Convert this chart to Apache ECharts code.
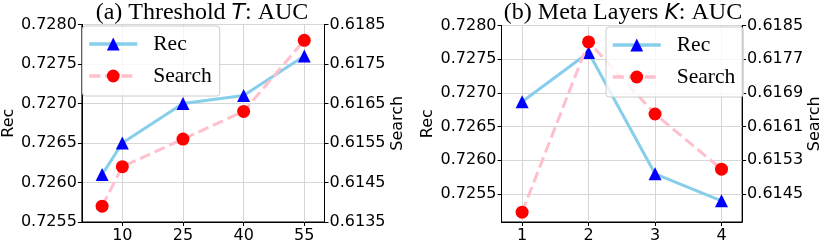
<!DOCTYPE html>
<html><head><meta charset="utf-8">
<script src="https://cdn.jsdelivr.net/npm/echarts@6/dist/echarts.min.js"></script>
<style>html,body{margin:0;padding:0;background:#fff}#c{width:824px;height:244px}</style>
</head><body><div id="c"></div>
<script>
// ---- data ----
const thresholdX = [5, 10, 25, 40, 55];
const thresholdTicks = [10, 25, 40, 55];
const thresholdRec = [0.7261, 0.7265, 0.7270, 0.7271, 0.7276];
const thresholdSearch = [0.6139, 0.6149, 0.6156, 0.6163, 0.6181];
const thresholdRecTicks = [0.7255, 0.7260, 0.7265, 0.7270, 0.7275, 0.7280];
const thresholdSearchTicks = [0.6135, 0.6145, 0.6155, 0.6165, 0.6175, 0.6185];

const layersX = [1, 2, 3, 4];
const layersTicks = [1, 2, 3, 4];
const layersRec = [0.72687, 0.7276, 0.7258, 0.7254];
const layersSearch = [0.61407, 0.61811, 0.6164, 0.61509];
const layersRecTicks = [0.7255, 0.7260, 0.7265, 0.7270, 0.7275, 0.7280];
const layersSearchTicks = [0.6145, 0.6153, 0.6161, 0.6169, 0.6177, 0.6185];

const seriesNames = ['Rec', 'Search'];
const titles = [
  ['(a) Threshold ', 'T', ': AUC'],
  ['(b) Meta Layers ', 'K', ': AUC']
];

// ---- styles ----
const SANS = 'DejaVu Sans';
const SERIF = 'Liberation Serif';
const GRIDC = '#d6d6d6';

function xAxisCfg(gi, min, max, ticks, fmt) {
  return {
    type: 'value', gridIndex: gi, min: min, max: max,
    axisLine: { show: true, onZero: false, lineStyle: { color: '#000', width: 1 } },
    axisTick: { show: true, customValues: ticks, length: 4, lineStyle: { color: '#000' } },
    axisLabel: { customValues: ticks, margin: 6, color: '#000', fontFamily: SANS, fontSize: 16, formatter: fmt },
    splitLine: { show: true, lineStyle: { color: GRIDC, width: 1 } }
  };
}
function yAxisCfg(gi, pos, min, max, ticks, name, gap, grid) {
  return {
    type: 'value', gridIndex: gi, position: pos, min: min, max: max,
    name: name, nameLocation: 'middle', nameRotate: 90, nameGap: gap,
    nameTextStyle: { fontFamily: SANS, fontSize: 16, color: '#000' },
    axisLine: { show: true, onZero: false, lineStyle: { color: '#000', width: 1 } },
    axisTick: { show: true, customValues: ticks, length: 4, lineStyle: { color: '#000' } },
    axisLabel: { customValues: ticks, margin: 5, color: '#000', fontFamily: SANS, fontSize: 16,
      formatter: v => Number(v).toFixed(4) },
    splitLine: { show: grid, lineStyle: { color: GRIDC, width: 1 } }
  };
}
function recSeries(xi, yi, xs, ys) {
  return {
    name: seriesNames[0], type: 'line', xAxisIndex: xi, yAxisIndex: yi,
    data: xs.map((x, i) => [x, ys[i]]),
    symbol: 'triangle', symbolSize: 13,
    lineStyle: { color: '#87CEEB', width: 3 },
    itemStyle: { color: '#0000FF', borderWidth: 0 },
    z: 2, animation: false
  };
}
function searchSeries(xi, yi, xs, ys) {
  return {
    name: seriesNames[1], type: 'line', xAxisIndex: xi, yAxisIndex: yi,
    data: xs.map((x, i) => [x, ys[i]]),
    symbol: 'circle', symbolSize: 13,
    lineStyle: { color: '#FFC0CB', width: 3, type: [11, 5] },
    itemStyle: { color: '#FF0000', borderWidth: 0 },
    z: 3, animation: false
  };
}
function legendCfg(left, top) {
  return {
    orient: 'vertical', left: left, top: top, data: seriesNames,
    itemWidth: 48, itemHeight: 16, itemGap: 10,
    padding: [7, 8, 9, 5],
    backgroundColor: 'rgba(255,255,255,0.8)',
    borderColor: '#cccccc', borderWidth: 1, borderRadius: 3,
    lineStyle: { width: 3.5 },
    textStyle: { fontFamily: SERIF, fontSize: 21.5, color: '#000', padding: [0, 0, 0, 11] },
    selectedMode: false
  };
}
function titleGraphic(cx, parts) {
  return {
    type: 'text', x: cx, y: 13, silent: true,
    style: {
      text: '{s|' + parts[0] + '}{i|' + parts[1] + '}{s|' + parts[2] + '}',
      align: 'center', verticalAlign: 'middle',
      rich: {
        s: { fontFamily: SERIF, fontSize: 24, fill: '#000' },
        i: { fontFamily: SANS, fontStyle: 'italic', fontSize: 22, fill: '#000' }
      }
    }
  };
}

const chart = echarts.init(document.getElementById('c'), null, { renderer: 'canvas' });
chart.setOption({
  animation: false,
  backgroundColor: '#fff',
  grid: [
    { left: 80.5, top: 24.5, width: 244, height: 202, show: true, borderColor: '#000', borderWidth: 1, containLabel: false },
    { left: 501.5, top: 25.5, width: 243.5, height: 201.2, show: true, borderColor: '#000', borderWidth: 1, containLabel: false }
  ],
  xAxis: [
    xAxisCfg(0, 0, 60, thresholdTicks, v => String(v)),
    xAxisCfg(1, 0.69, 4.31, layersTicks, v => String(v))
  ],
  yAxis: [
    yAxisCfg(0, 'left', 0.7255, 0.7280, thresholdRecTicks, 'Rec', 62, true),
    yAxisCfg(0, 'right', 0.6135, 0.6185, thresholdSearchTicks, 'Search', 64, false),
    yAxisCfg(1, 'left', 0.725085, 0.7280, layersRecTicks, 'Rec', 66, true),
    yAxisCfg(1, 'right', 0.613836, 0.6185, layersSearchTicks, 'Search', 62, false)
  ],
  legend: [legendCfg(82.5, 26), legendCfg(606, 27)],
  graphic: [titleGraphic(202, titles[0]), titleGraphic(623, titles[1])],
  series: [
    recSeries(0, 0, thresholdX, thresholdRec),
    searchSeries(0, 1, thresholdX, thresholdSearch),
    recSeries(1, 2, layersX, layersRec),
    searchSeries(1, 3, layersX, layersSearch)
  ]
});
</script></body></html>
